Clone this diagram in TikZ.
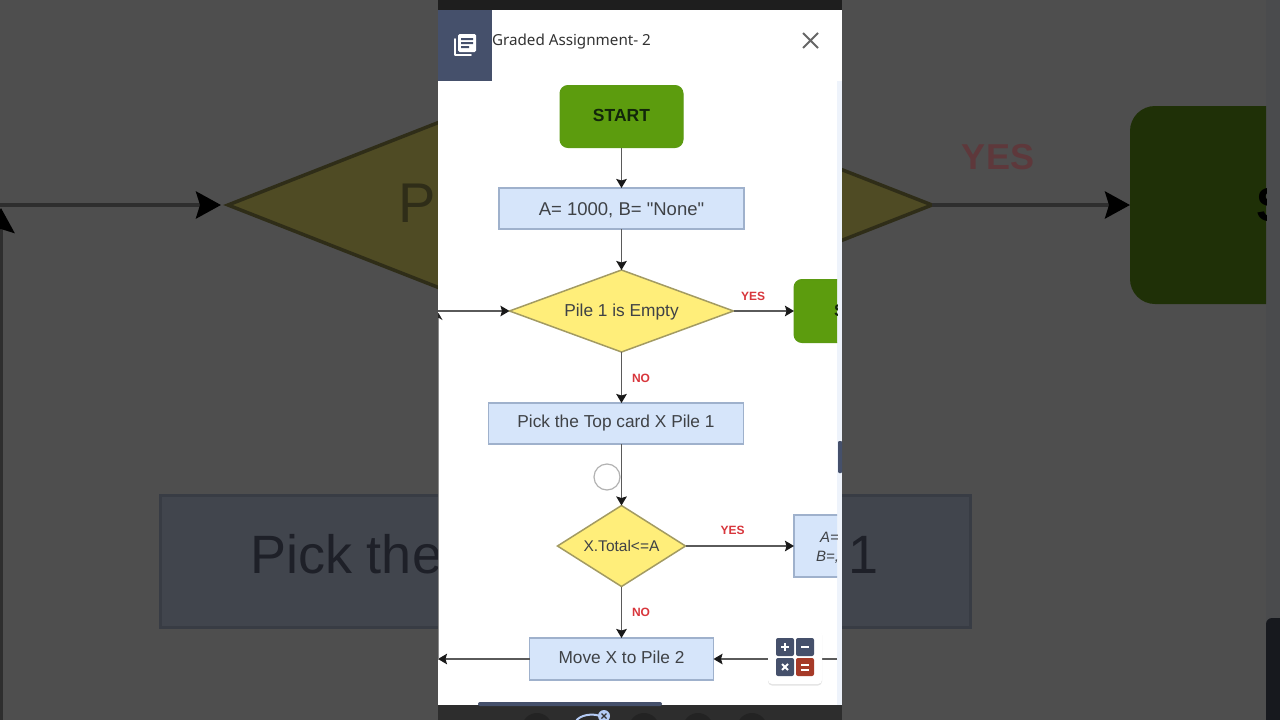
\documentclass[tikz,border=0pt]{standalone}
\usepackage{fontspec}
\setmainfont{Liberation Sans}
\newfontfamily\uifont{Noto Sans}
\newfontfamily\plainquote{Liberation Sans}
\usetikzlibrary{shapes.geometric,arrows.meta,shadows}
\definecolor{panelbg}{HTML}{4E4E4E}
\definecolor{sidestrip}{HTML}{4A4B4D}
\definecolor{bargray}{HTML}{1E1E1E}
\definecolor{traygray}{HTML}{2D2D2D}
\definecolor{traydot}{HTML}{232323}
\definecolor{edgestrip}{HTML}{EEF3FB}
\definecolor{slate}{HTML}{45506B}
\definecolor{boxfill}{HTML}{D6E5FA}
\definecolor{boxline}{HTML}{9FB1CC}
\definecolor{yellowfill}{HTML}{FFEE7A}
\definecolor{yellowline}{HTML}{A39B62}
\definecolor{greenfill}{HTML}{5C9C0E}
\definecolor{greenline}{HTML}{5B9A12}
\definecolor{redlabel}{HTML}{D8363C}
\definecolor{inktext}{HTML}{3F4246}
\definecolor{startink}{HTML}{12260A}
\definecolor{conn}{HTML}{5A5A5A}
\definecolor{dimbox}{HTML}{41454D}
\definecolor{dimline}{HTML}{383C44}
\definecolor{dimink}{HTML}{1E2028}
\definecolor{dimyellow}{HTML}{4F4B24}
\definecolor{dimyline}{HTML}{2F2D18}
\definecolor{dimgreen}{HTML}{1F3007}
\definecolor{dimred}{HTML}{5E383B}
\definecolor{dimconn}{HTML}{2E2E2E}
\definecolor{pillink}{HTML}{17191E}
\definecolor{calcred}{HTML}{A63A28}
\definecolor{iconblue}{HTML}{B4CBF5}
\newcommand{\cc}[2]{\raisebox{-#1pt}[0pt][0pt]{#2}}
\tikzset{
  x=1pt,y=-1pt,
  every node/.style={inner sep=0pt,outer sep=0pt,font=\fontsize{17.3}{21}\selectfont,text=inktext},
  procbox/.style={draw=boxline,line width=1.5pt,fill=boxfill,rectangle},
  deci/.style={diamond,draw=yellowline,line width=1.5pt,fill=yellowfill},
  term/.style={rectangle,rounded corners=8pt,draw=greenline,line width=1pt,fill=greenfill},
  link/.style={draw=conn,line width=1.6pt,-{Stealth[length=9pt,width=10.5pt,inset=1.5pt,color=black!90]}},
  ylabel/.style={font=\fontsize{12}{14}\bfseries\selectfont,text=redlabel},
  biglink/.style={draw=dimconn,line width=4pt,-{Stealth[length=25pt,width=27pt,inset=4pt,color=black]}},
  bigtext/.style={anchor=base west,font=\fontsize{54}{56}\selectfont,text=dimink},
}
\begin{document}
\begin{tikzpicture}
\useasboundingbox (0,0) rectangle (1280,720);
% backdrop
\fill[panelbg] (0,0) rectangle (1280,720);
\fill[sidestrip] (1266,0) rectangle (1280,720);
\node[deci,draw=dimyline,line width=3.5pt,fill=dimyellow,shape aspect=2.55,minimum width=704pt,minimum height=276pt] (bigd) at (580,205) {};
\node[bigtext,font=\fontsize{56}{58}\selectfont,text=dimyline] (bigdt) at (398,222) {Pi};
\coordinate (bigl) at (0,205);
\coordinate (bigb) at (1,720);
\coordinate (bigu) at (1,208);
\draw[biglink,shorten >=7pt] (bigl) -- (bigd.west);
\draw[biglink] (bigb) -- (bigu);
\node[rectangle,draw=dimline,line width=3pt,fill=dimbox,minimum width=810pt,minimum height=132pt] (bigp) at (565,561) {};
\node[bigtext] (bigpt) at (250,573) {Pick the};
\node[bigtext] (bigone) at (848,573) {1};
\node[font=\fontsize{36}{38}\bfseries\selectfont,text=dimred,anchor=center] (bigyes) at (998,157) {YES};
\begin{scope}
  \clip (1100,90) rectangle (1266,320);
  \node[rectangle,rounded corners=25pt,fill=dimgreen,minimum width=200pt,minimum height=198pt,anchor=west] (bigg) at (1130,205) {};
  \node[font=\fontsize{48}{50}\bfseries\selectfont,text=black,anchor=base west] (bigs) at (1256,221) {S};
\end{scope}
\draw[biglink] (bigd.east) -- (bigg.west);
\fill[pillink,rounded corners=6pt] (1266,618) rectangle (1290,730);
% phone screen
\fill[white] (438,10) rectangle (842,705);
\fill[bargray] (438,0) rectangle (842,10);
\fill[traygray] (438,705) rectangle (842,720);
\fill[edgestrip] (837,81) rectangle (842,705);
\fill[slate] (438,10) rectangle (492,81);
\node[anchor=west,font=\uifont\fontsize{15.2}{18}\selectfont,text=black!80] (title) at (492,42) {Graded Assignment- 2};
% document icon
\begin{scope}[line cap=round,line join=round]
  \draw[white,line width=1.8pt] (455,39) -- (455,55) -- (471,55);
  \fill[white,rounded corners=1.5pt] (458,34) rectangle (476,52);
  \fill[slate] (461,38) rectangle (473,40) (461,42) rectangle (473,44) (461,46) rectangle (469,48);
  \draw[black!60,line width=1.8pt,line cap=butt] (803,33) -- (818,48) (818,33) -- (803,48);
\end{scope}
% flowchart
\node[term,minimum width=123pt,minimum height=62pt,font=\fontsize{17.5}{20}\bfseries\selectfont,text=startink] (start) at (621.5,116.5) {\cc{5}{START}};
\node[procbox,minimum width=245pt,minimum height=41pt,font=\plainquote\fontsize{18.5}{21}\selectfont] (init) at (621.5,208.5) {\cc{7.3}{A= 1000, B= "None"}};
\node[deci,shape aspect=2.72,minimum width=224pt,minimum height=82pt] (empty) at (621.5,311) {\cc{5.8}{Pile 1 is Empty}};
\node[procbox,minimum width=255pt,minimum height=41pt] (pick) at (616,423.5) {\cc{4.3}{Pick the Top card X Pile 1}};
\node[deci,shape aspect=1.58,minimum width=128pt,minimum height=81pt,font=\fontsize{15.5}{17}\selectfont] (total) at (621.5,546) {\cc{5}{X.Total<=A}};
\node[procbox,minimum width=184pt,minimum height=42pt] (move) at (621.5,659) {\cc{4}{Move X to Pile 2}};
\begin{scope}
  \clip (780,270) rectangle (837,600);
  \node[term,minimum width=80pt,minimum height=63pt,anchor=west] (stopbox) at (794,311) {};
  \node[anchor=west,font=\fontsize{17}{20}\bfseries\selectfont,text=startink] (stoptext) at (834,311) {S};
  \node[procbox,minimum width=80pt,minimum height=62pt,anchor=west] (upd) at (794,546) {};
  \node[anchor=west,font=\fontsize{15}{18}\itshape\selectfont] (upda) at (820,537) {A=};
  \node[anchor=west,font=\fontsize{15}{18}\itshape\selectfont] (updb) at (816,557) {B=,};
\end{scope}
\coordinate (pickout) at (621.5,444);
\coordinate (leftin) at (438,311);
\coordinate (leftout) at (438,659);
\coordinate (rightin) at (837,659);
\coordinate (leftup) at (438.5,660);
\coordinate (leftuptop) at (438.5,313);
\draw[link] (start) -- (init);
\draw[link] (init) -- (empty);
\draw[link] (leftin) -- (empty.west);
\draw[link] (empty.east) -- (stopbox.west);
\draw[link] (empty) -- (empty.south |- pick.north);
\draw[link] (pickout) -- (total.north);
\draw[link] (total.east) -- (upd.west);
\draw[link] (total) -- (move);
\draw[link] (move.west) -- (leftout);
\draw[link] (rightin) -- (move.east);
\begin{scope}
  \clip (438,300) rectangle (450,670);
  \draw[draw=black!45,line width=1.2pt,-{Stealth[length=7pt,width=8pt,color=black!85]}] (leftup) -- (leftuptop);
\end{scope}
\node[ylabel] (yes1) at (753,296) {YES};
\node[ylabel] (no1) at (641,378) {NO};
\node[ylabel] (yes2) at (732.5,530) {YES};
\node[ylabel] (no2) at (641,612) {NO};
% touch ring
\node[circle,draw=black!30,line width=1.2pt,fill=white,fill opacity=.6,minimum size=26pt] (ring) at (607,477) {};
% scrollbars
\fill[slate,rounded corners=1pt] (838,441) rectangle (842,473);
\fill[slate,rounded corners=2pt] (478,702) rectangle (662,706);
% calculator button
\node[rectangle,rounded corners=4pt,fill=white,minimum size=54pt,drop shadow={opacity=.22,shadow xshift=0pt,shadow yshift=-1.5pt}] (calc) at (795,657) {};
\fill[slate,rounded corners=2pt] (776,638) rectangle (794,656);
\fill[slate,rounded corners=2pt] (796,638) rectangle (814,656);
\fill[slate,rounded corners=2pt] (776,658) rectangle (794,676);
\fill[calcred,rounded corners=2pt] (796,658) rectangle (814,676);
\draw[white,line width=1.8pt] (781,647) -- (789,647) (785,643) -- (785,651);
\draw[white,line width=1.8pt] (801,647) -- (809,647);
\draw[white,line width=1.8pt] (782,664) -- (788,670) (788,664) -- (782,670);
\draw[white,line width=1.6pt] (801,665) -- (809,665) (801,670) -- (809,670);
% bottom tray hints
\fill[traydot] (537,728) circle (15pt);
\fill[traydot] (644,728) circle (15pt);
\fill[traydot] (698,728) circle (15pt);
\fill[traydot] (752,728) circle (15pt);
\draw[iconblue,line width=2pt] (576,721) .. controls (580,715) and (592,713) .. (600,716);
\fill[iconblue] (604,716) circle (6pt);
\draw[black!80,line width=1.1pt] (601.5,713.5) -- (606.5,718.5) (606.5,713.5) -- (601.5,718.5);
\end{tikzpicture}
\end{document}
